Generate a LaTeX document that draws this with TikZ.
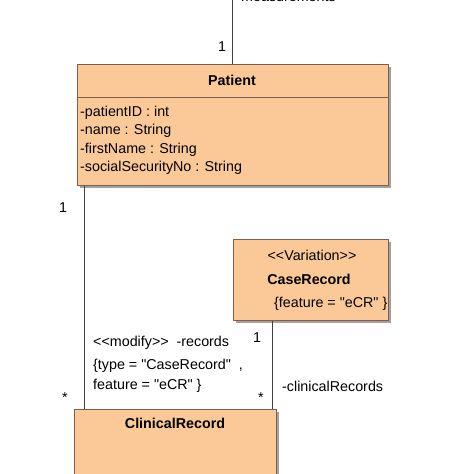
\documentclass[tikz,border=0pt]{standalone}
\usepackage{fontspec}
\defaultfontfeatures{}
\setmainfont{Liberation Sans}[Ligatures=TeXOff]
\usetikzlibrary{shadows}
\definecolor{boxfill}{RGB}{251,201,152}
\definecolor{boxline}{RGB}{125,95,75}
\definecolor{shadowc}{RGB}{165,160,160}
\begin{document}
\begin{tikzpicture}[x=1pt,y=-1pt,
  every node/.style={font=\fontsize{14.3}{17}\selectfont, inner sep=0pt},
  classbox/.style={draw=boxline, line width=1pt, fill=boxfill,
    drop shadow={shadow xshift=3pt, shadow yshift=-3pt, fill=shadowc, opacity=1}},
  conn/.style={draw=black!75, line width=0.9pt},
  lbl/.style={anchor=west},
  bname/.style={font=\fontsize{14.3}{17}\selectfont\bfseries}]
\useasboundingbox (0,0) rectangle (474,474);
% Patient
\node[classbox, minimum width=311pt, minimum height=121pt] (patient) at (232.5,124.5) {};
\draw[boxline, line width=1pt] (77,97) -- (388,97);
\node[bname] (pname) at (232,80) {Patient};
\node[lbl] (a1) at (80,113) {-patientID : int};
\node[lbl] (a2) at (80,131) {-name : String};
\node[lbl] (a3) at (80,150) {-firstName : String};
\node[lbl] (a4) at (80,168) {-socialSecurityNo : String};
% CaseRecord
\node[classbox, minimum width=155pt, minimum height=81pt] (caserec) at (310.5,279.5) {};
\node (cst) at (312,255) {<\kern0pt<Variation>\kern0pt>};
\node[bname] (cname) at (309,279) {CaseRecord};
\node[lbl] (cfeat) at (274,304) {\{feature = "eCR" \}};
% ClinicalRecord
\node[classbox, minimum width=202pt, minimum height=110pt] (clin) at (175,464) {};
\node[bname] (clname) at (175,423) {ClinicalRecord};
% connectors
\coordinate (topend) at (232,-10);
\draw[conn] (topend) -- (topend |- patient.north);
\coordinate (lx) at (84,0);
\draw[conn] (lx |- patient.south) -- (lx |- clin.north);
\coordinate (rx) at (272,0);
\draw[conn] (rx |- caserec.south) -- (rx |- clin.north);
% labels
\node[lbl] (meas) at (241,-3) {measurements};
\node (m1) at (222,47) {1};
\node (m2) at (63,208) {1};
\node (m3) at (65,398) {*};
\node[lbl] (r1) at (93,343) {<\kern0pt<modify>\kern0pt>\ \ -records};
\node[lbl] (r2) at (93,366) {\{type = "CaseRecord" \ ,};
\node[lbl] (r3) at (93,386) {feature = "eCR" \}};
\node (m4) at (257,338) {1};
\node (m5) at (261,398) {*};
\node[lbl] (cr) at (282,386) {-clinicalRecords};
\end{tikzpicture}
\end{document}
